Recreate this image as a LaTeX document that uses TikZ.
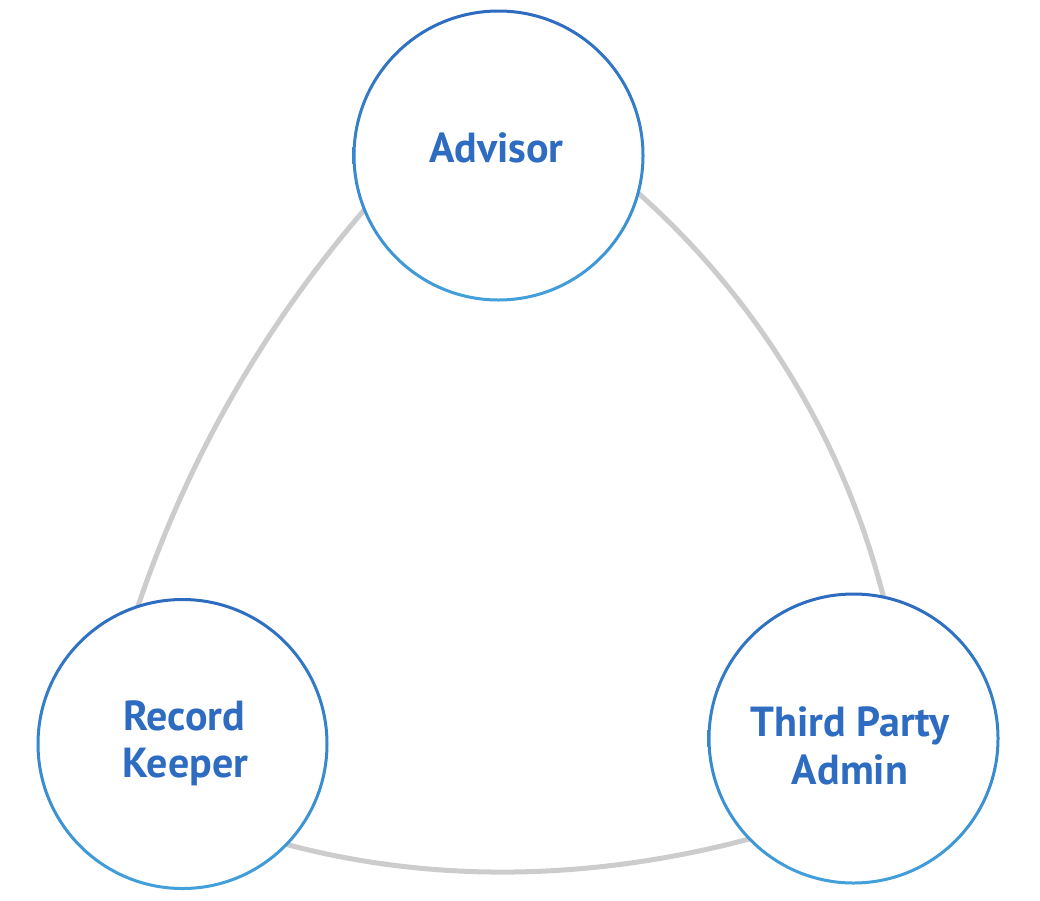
\documentclass[tikz,border=0pt]{standalone}
\usepackage{fontspec}
\setmainfont{PT Sans}
\definecolor{txtblue}{HTML}{2D6CC0}
\definecolor{ringtop}{HTML}{2D6BBF}
\definecolor{ringbot}{HTML}{42A0DA}
\definecolor{arcgray}{HTML}{CCCCCC}
\begin{document}
\begin{tikzpicture}[x=1pt,y=-1pt,
  party/.style={circle, fill=white, minimum size=289pt, inner sep=0pt, outer sep=0pt},
  lbl/.style={anchor=base, text=txtblue, font=\bfseries\fontsize{42}{50}\selectfont, inner sep=0pt},
  link/.style={draw=arcgray, line width=5pt}]
\useasboundingbox (0,0) rectangle (1040,900);
\fill[white] (0,0) rectangle (1040,900);
% circles
\node[party] (adv) at (498.5,155.5) {};
\node[party] (rk) at (182.5,744) {};
\node[party] (tpa) at (853.5,738.5) {};
% connecting arcs
\draw[link] (adv.202) .. controls (263.6,326.5) and (187.6,459.2) .. (rk.108);
\draw[link] (adv.345) .. controls (758,300) and (843,438.3) .. (tpa.78);
\draw[link] (rk.316) .. controls (439,885) and (599,879) .. (tpa.224);
% gradient rings
\foreach \n in {adv,rk,tpa}{
  \shade[top color=ringtop, bottom color=ringbot, even odd rule]
    (\n.center) circle[radius=146pt] (\n.center) circle[radius=143pt];
}
% labels
\node[lbl] (advt) at (496.5,162) {Advisor};
\node[lbl] (rkt1) at (184,730) {Record};
\node[lbl] (rkt2) at (185.5,777) {Keeper};
\node[lbl] (tpat1) at (850,736) {Third Party};
\node[lbl] (tpat2) at (850,784) {Admin};
\end{tikzpicture}
\end{document}
